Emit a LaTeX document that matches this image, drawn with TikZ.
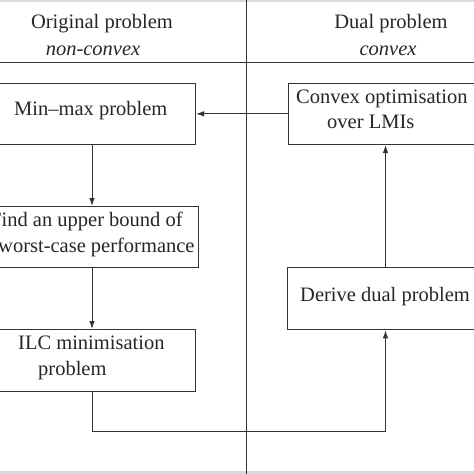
\documentclass[tikz,border=0pt]{standalone}
\usepackage{fontspec}
\setmainfont{Liberation Serif}
\usetikzlibrary{arrows.meta}
\begin{document}
\begin{tikzpicture}[x=1pt,y=-1pt,
  ln/.style={line width=1pt,draw=black!80},
  box/.style={ln,rectangle,inner sep=0pt,anchor=north west},
  arr/.style={ln,-{Latex[length=8pt,width=5.5pt]}},
  lbl/.style={inner sep=0pt,font=\fontsize{20.5}{26}\selectfont,text=black!85},
  band/.style={fill=black!15,draw=none}]
\useasboundingbox (0,0) rectangle (474,474);
\clip (0,0) rectangle (474,474);
% grey bands
\fill[band] (0,0) rectangle (474,1.6);
\fill[band] (0,471) rectangle (474,474);
% dividers
\draw[ln] (246.7,0) -- (246.7,474);
\draw[ln] (0,62) -- (474,62);
% headers
\node[lbl,anchor=mid] (h1) at (102,26) {Original problem};
\node[lbl,anchor=mid] (h1b) at (93,53) {\itshape non-convex};
\node[lbl,anchor=mid] (h2) at (391,26) {Dual problem};
\node[lbl,anchor=mid] (h2b) at (388,53) {\itshape convex};
% boxes
\node[box,minimum width=215pt,minimum height=61.3pt] (minmax) at (-20,82.7) {};
\node[box,minimum width=218pt,minimum height=61pt] (find) at (-20,206) {};
\node[box,minimum width=215pt,minimum height=61.7pt] (ilc) at (-20,329) {};
\node[box,minimum width=210pt,minimum height=61.3pt] (convex) at (287.7,82.7) {};
\node[box,minimum width=210pt,minimum height=62pt] (derive) at (287.3,267.3) {};
% texts
\node[lbl,anchor=mid west] (t1) at (14,113) {Min\textendash max problem};
\node[lbl,anchor=mid west] (t2a) at (-10,224) {Find an upper bound of};
\node[lbl,anchor=mid west] (t2b) at (-2,250) {worst-case performance};
\node[lbl,anchor=mid west] (t3a) at (18,347) {ILC minimisation};
\node[lbl,anchor=mid west] (t3b) at (38,373) {problem};
\node[lbl,anchor=mid west] (t4a) at (296,101) {Convex optimisation};
\node[lbl,anchor=mid west] (t4b) at (327,126) {over LMIs};
\node[lbl,anchor=mid west] (t5) at (300,299) {Derive dual problem};
% connectors
\coordinate (cx) at (92,0);
\coordinate (rx) at (385.5,0);
\coordinate (low) at (0,431.7);
\draw[arr] (convex.west) -- (minmax.east);
\draw[arr] (minmax.south -| cx) -- (find.north -| cx);
\draw[arr] (find.south -| cx) -- (ilc.north -| cx);
\draw[arr] (ilc.south -| cx) -- (low -| cx) -- (low -| rx) -- (derive.south -| rx);
\draw[arr] (derive.north -| rx) -- (convex.south -| rx);
\end{tikzpicture}
\end{document}
